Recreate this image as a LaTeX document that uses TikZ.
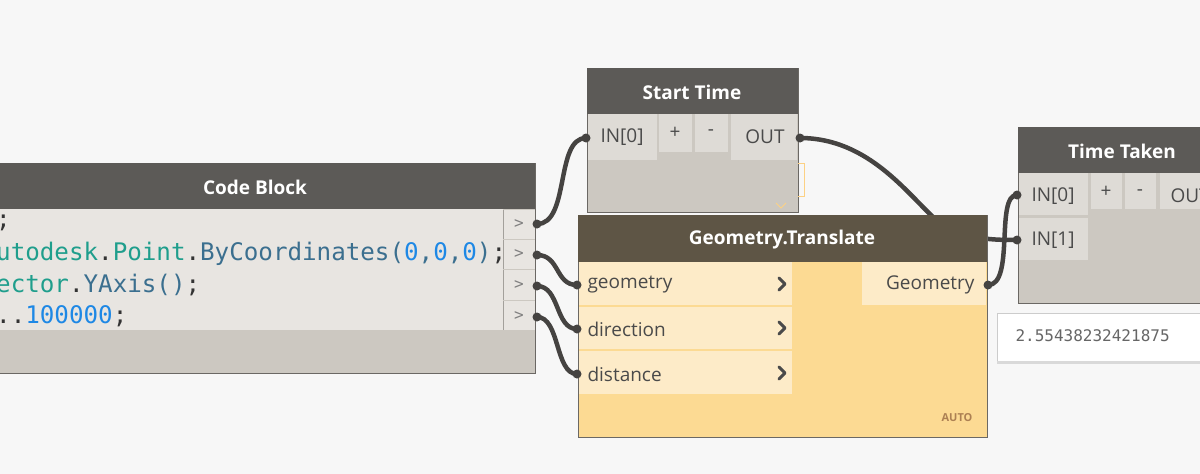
\documentclass[tikz,border=0pt]{standalone}
\usepackage{fontspec}
\setmainfont{Open Sans}
\newfontfamily\monof{DejaVu Sans Mono}
\begin{document}
\begin{tikzpicture}[x=1pt,y=-1pt,
  hdr/.style={fill=hdrgray,draw=edge,line width=1pt},
  cell/.style={fill=cellgray},
  wire/.style={draw=wirec,line width=4.5pt},
  dot/.style={circle,fill=wirec,inner sep=0pt,minimum size=9pt},
  ttl/.style={text=white,font=\bfseries\fontsize{19}{22}\selectfont},
  lbl/.style={text=labc,font=\fontsize{19}{22}\selectfont},
  code/.style={anchor=west,font=\monof\fontsize{24.2}{27}\selectfont,inner sep=0pt}]
\definecolor{bg}{HTML}{F7F7F7}
\definecolor{hdrgray}{HTML}{5C5A57}
\definecolor{edge}{HTML}{6B6864}
\definecolor{cellgray}{HTML}{DEDBD6}
\definecolor{bodygray}{HTML}{CCC8C1}
\definecolor{codebg}{HTML}{E8E5E1}
\definecolor{wirec}{HTML}{454341}
\definecolor{labc}{HTML}{4A4A4A}
\definecolor{brownh}{HTML}{5E5545}
\definecolor{ybody}{HTML}{FCDA93}
\definecolor{ycell}{HTML}{FDEBC8}
\definecolor{teal}{HTML}{1F9E8C}
\definecolor{bgrey}{HTML}{3B6F8F}
\definecolor{nblue}{HTML}{1E88E5}
\definecolor{dk}{HTML}{333333}
\fill[bg] (0,0) rectangle (1200,474);
\useasboundingbox (0,0) rectangle (1200,474);
% port coordinates
\coordinate (cb1) at (537,224);
\coordinate (cb2) at (537,255);
\coordinate (cb3) at (537,286);
\coordinate (cb4) at (537,317);
\coordinate (stin) at (586,138);
\coordinate (stout) at (800,138);
\coordinate (gin1) at (577,285);
\coordinate (gin2) at (577,329);
\coordinate (gin3) at (577,374);
\coordinate (gout) at (988,285);
\coordinate (tt0) at (1017,195);
\coordinate (tt1) at (1017,240);
% wires
\draw[wire] (cb1) .. controls (570,224) and (555,138) .. (stin);
\draw[wire] (cb2) .. controls (560,255) and (555,285) .. (gin1);
\draw[wire] (cb3) .. controls (560,286) and (555,329) .. (gin2);
\draw[wire] (cb4) .. controls (560,317) and (555,374) .. (gin3);
\draw[wire] (stout) .. controls (880,138) and (920,215) .. (950,230) .. controls (975,240) and (1000,240) .. (tt1);
\draw[wire] (gout) .. controls (1015,285) and (995,195) .. (tt0);
% Code Block
\fill[codebg] (-5,209) rectangle (535,330);
\fill[bodygray] (-5,330) rectangle (535,373);
\draw[edge,line width=1pt] (-5,163) rectangle (535,373);
\fill[hdrgray] (-5,163) rectangle (535,209);
\node[ttl] (cbt) at (255,187) {Code Block};
\draw[bodygray!80!black,line width=0.8pt] (503,209) -- (503,330);
\foreach \y/\n in {209/a,239/b,269/c,300/d}{\draw[bodygray,line width=0.8pt] (503,\y) -- (535,\y);}
\foreach \y/\n in {224/p1,254/p2,285/p3,316/p4}{\node[text=gray,font=\monof\fontsize{16}{18}\selectfont] (\n) at (519,\y) {>};}
\begin{scope}
\clip (0,209) rectangle (502,330);
\node[code] (l1) at (-4,223) {\color{dk};};
\node[code] (l2) at (-4,254) {\color{teal}utodesk\color{dk}.\color{teal}Point\color{dk}.\color{bgrey}ByCoordinates(\color{nblue}0\color{bgrey},\color{nblue}0\color{bgrey},\color{nblue}0\color{bgrey})\color{dk};};
\node[code] (l3) at (-4,285) {\color{teal}ector\color{dk}.\color{bgrey}YAxis()\color{dk};};
\node[code] (l4) at (-4,316) {\color{dk}..\color{nblue}100000\color{dk};};
\end{scope}
% Start Time
\fill[bodygray] (587,114) rectangle (798,212);
\draw[edge,line width=1pt] (587,68) rectangle (798,212);
\fill[hdrgray] (587,68) rectangle (798,114);
\node[ttl] (stt) at (692,92) {Start Time};
\fill[cellgray] (588,114) rectangle (657,160);
\fill[cellgray] (659,114) rectangle (692,152);
\fill[cellgray] (695,114) rectangle (728,152);
\fill[cellgray] (731,114) rectangle (797,160);
\node[lbl] (sti) at (622,137) {IN[0]};
\node[lbl] (stp) at (675,133) {+};
\node[lbl] (stm) at (711,133) {-};
\node[lbl] (sto) at (765,137) {OUT};
\draw[ybody!90!orange,line width=1pt] (798,163) -- (804,163) -- (804,196) -- (798,196);
\draw[ybody!90!orange,line width=1pt] (776,203) -- (781,208) -- (786,203);
% Geometry.Translate
\fill[ybody] (578,262) rectangle (987,437);
\draw[edge,line width=1pt] (578,215) rectangle (987,437);
\fill[brownh] (578,215) rectangle (987,262);
\node[ttl] (gtt) at (782,240) {Geometry.Translate};
\foreach \a/\b in {262/305,307/349,351/394}{\fill[ycell] (579,\a) rectangle (792,\b);}
\fill[ycell] (862,262) rectangle (986,305);
\node[lbl,anchor=west] (g1) at (584,285) {geometry};
\node[lbl,anchor=west] (g2) at (584,329) {direction};
\node[lbl,anchor=west] (g3) at (584,374) {distance};
\foreach \y/\n in {284/c1,328/c2,373/c3}{\draw[labc,line width=3pt,line cap=round,line join=round] (779,\y-6) -- (785,\y) -- (779,\y+6);}
\node[lbl,anchor=east] (go) at (978,285) {Geometry};
\node[text=brown!70!gray,font=\bfseries\fontsize{11}{13}\selectfont] (auto) at (957,418) {AUTO};
% Time Taken
\fill[bodygray] (1018,173) rectangle (1210,303);
\draw[edge,line width=1pt] (1018,127) rectangle (1210,303);
\fill[hdrgray] (1018,127) rectangle (1210,173);
\node[ttl] (ttt) at (1122,151) {Time Taken};
\fill[cellgray] (1019,173) rectangle (1088,215);
\fill[cellgray] (1019,218) rectangle (1088,260);
\fill[cellgray] (1091,173) rectangle (1122,209);
\fill[cellgray] (1125,173) rectangle (1156,209);
\fill[cellgray] (1160,173) rectangle (1210,209);
\node[lbl] (tti0) at (1053,196) {IN[0]};
\node[lbl] (tti1) at (1053,240) {IN[1]};
\node[lbl] (ttp) at (1106,192) {+};
\node[lbl] (ttm) at (1140,193) {-};
\node[lbl,anchor=west] (tto) at (1167,196) {OUT};
% value box
\fill[white] (997,313) rectangle (1210,362);
\draw[gray!40,line width=1pt] (997,362) -- (997,313) -- (1210,313);
\draw[gray!30,line width=3pt] (997,362) -- (1210,362);
\node[anchor=west,text=gray!80!black,font=\monof\fontsize{16}{18}\selectfont] (val) at (1012,336) {2.55438232421875};
% port dots
\foreach \c in {cb1,cb2,cb3,cb4,stin,stout,gin1,gin2,gin3,gout,tt0,tt1}{\node[dot] at (\c) {};}
\end{tikzpicture}
\end{document}
